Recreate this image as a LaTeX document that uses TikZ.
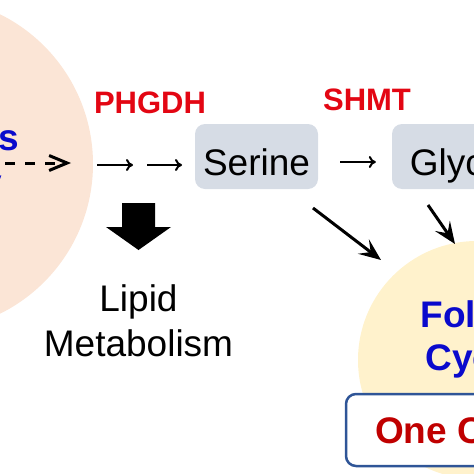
\documentclass[tikz,border=0pt]{standalone}
\usepackage{fontspec}
\setmainfont{Liberation Sans}
\usetikzlibrary{arrows.meta}
\definecolor{peach}{HTML}{FBE5D6}
\definecolor{cream}{HTML}{FFF2CC}
\definecolor{boxgray}{HTML}{D6DCE5}
\definecolor{enzred}{HTML}{E30613}
\definecolor{pathblue}{HTML}{0A0ACC}
\definecolor{darkred}{HTML}{C00000}
\definecolor{frameblue}{HTML}{2F5597}
\newcommand{\bigfont}{\fontsize{37}{45}\selectfont}
\tikzset{
every picture/.style={x=1pt,y=-1pt},
pool/.style={circle, inner sep=0pt},
metab/.style={rounded corners=10pt, fill=boxgray, minimum height=65pt, text height=37pt, text depth=0pt, font=\bigfont},
enzyme/.style={text=enzred, font=\fontsize{31}{37}\selectfont\bfseries},
thin arrow/.style={line width=2pt, -{To[length=7pt,width=12pt]}},
flux/.style={line width=3pt, -{Stealth[length=22pt,width=18pt,inset=9pt]}}
}

\begin{document}
\begin{tikzpicture}
    \useasboundingbox (0,0) rectangle (474,474);
    \clip (0,0) rectangle (474,474);
    \node[pool, fill=peach, minimum size=334pt] (glyco) at (-74,164) {};
    \node[pool, fill=cream, minimum size=238pt] (folate) at (477,360) {};
    \node[font=\bigfont\bfseries, text=pathblue, align=center] (glycotext) at (-73,163) {Glycolysis\\Pathway};
    \node[font=\fontsize{37}{43}\selectfont\bfseries, text=pathblue, align=center] (folatetext) at (475,339) {Folate\\Cycle};
    \node[metab, minimum width=123pt] (serine) at (256.5,156.5) {Serine};
    \node[metab, minimum width=159pt] (glycine) at (471.5,156.5) {Glycine};
    \node[enzyme] (phgdh) at (150,103) {PHGDH};
    \node[enzyme] (shmt) at (367,100) {SHMT};
    \node[draw=frameblue, line width=2.5pt, fill=white, rounded corners=10pt, minimum width=270pt, minimum height=72pt, text=darkred, font=\bigfont\bfseries] (onecarbon) at (481,430) {One Carbon};
    \node[font=\bigfont, align=center] (lipid) at (138.5,321) {Lipid\\Metabolism};
    \coordinate (d0) at (-5,163);
    \coordinate (d1) at (71,163);
    \coordinate (a1) at (97,165);
    \coordinate (a2) at (133,165);
    \coordinate (a3) at (147,165);
    \coordinate (a4) at (182,165);
    \coordinate (s1) at (313,208);
    \coordinate (f1) at (381,260);
    \coordinate (g1) at (428,205);
    \coordinate (f2) at (455,244);
    \draw[line width=3pt, dash pattern=on 10pt off 10pt, dash phase=10pt, -{Straight Barb[length=18pt,width=15pt]}] (d0) -- (d1);
    \draw[thin arrow] (a1) -- (a2);
    \draw[thin arrow] (a3) -- (a4);
    \draw[thin arrow, shorten <=22pt, shorten >=16pt] ([yshift=-5.5pt]serine.east) -- ([yshift=-5.5pt]glycine.west);
    \draw[flux] (s1) -- (f1);
    \draw[flux] (g1) -- (f2);
    \fill (122,203) -- (155,203) -- (155,227) -- (171,227) -- (138.5,250) -- (106,227) -- (122,227) -- cycle;
\end{tikzpicture}
\end{document}
